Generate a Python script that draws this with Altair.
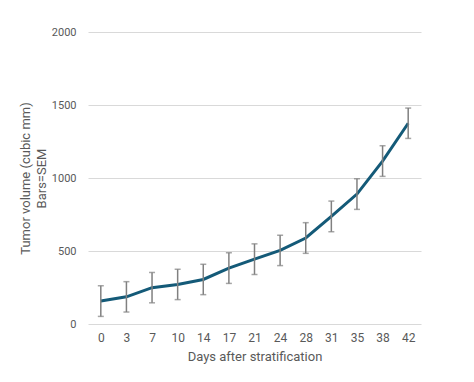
import altair as alt
import pandas as pd

days = [0, 3, 7, 10, 14, 17, 21, 24, 28, 31, 35, 38, 42]
mean_volume = [157, 186, 249, 271, 305, 383, 444, 504, 589, 737, 890, 1116, 1375]
sem = [105, 104, 104, 104, 104, 105, 105, 104, 105, 105, 105, 105, 104]

df = pd.DataFrame({
    "day": days,
    "mean": mean_volume,
    "lo": [m - s for m, s in zip(mean_volume, sem)],
    "hi": [m + s for m, s in zip(mean_volume, sem)],
})

FONT = "Roboto"
GREY = "#595959"
Y_TITLE = ["Tumor volume (cubic mm)", "Bars=SEM"]

x_axis = alt.Axis(labelAngle=0, domain=False, ticks=False, grid=False,
                  labelPadding=8, titlePadding=7, labelFontSize=12,
                  titleFontSize=13, labelColor=GREY, titleColor=GREY,
                  labelFont=FONT, titleFont=FONT, titleFontWeight="normal")
x = alt.X("day:O", title="Days after stratification",
          scale=alt.Scale(type="point", padding=0.5), axis=x_axis)

y_axis = alt.Axis(values=[0, 500, 1000, 1500, 2000], format="d", domain=False,
                  ticks=False, gridColor="#d9d9d9", gridWidth=1, labelPadding=12,
                  labelFontSize=11, titleFontSize=13, labelColor=GREY,
                  titleColor=GREY, labelFont=FONT, titleFont=FONT,
                  titleFontWeight="normal", titlePadding=3, titleLineHeight=16)

line = alt.Chart(df).mark_line(color="#145a78", strokeWidth=3).encode(
    x=x,
    y=alt.Y("mean:Q", title=Y_TITLE,
            scale=alt.Scale(domain=[0, 2000], nice=False), axis=y_axis),
)

err = alt.Chart(df).mark_errorbar(ticks=alt.MarkConfig(size=6, color="#808080", strokeWidth=1.5),
                                  color="#808080", thickness=1.5).encode(
    x=x,
    y=alt.Y("lo:Q", title=Y_TITLE, axis=y_axis),
    y2="hi:Q",
)

chart = alt.layer(line, err).properties(
    width=333, height=292, background="white",
    padding={"left": 11, "top": 18, "right": 5, "bottom": 5},
).configure_view(stroke="transparent")

chart.save("out.html", embed_options={"renderer": "svg", "actions": False})
